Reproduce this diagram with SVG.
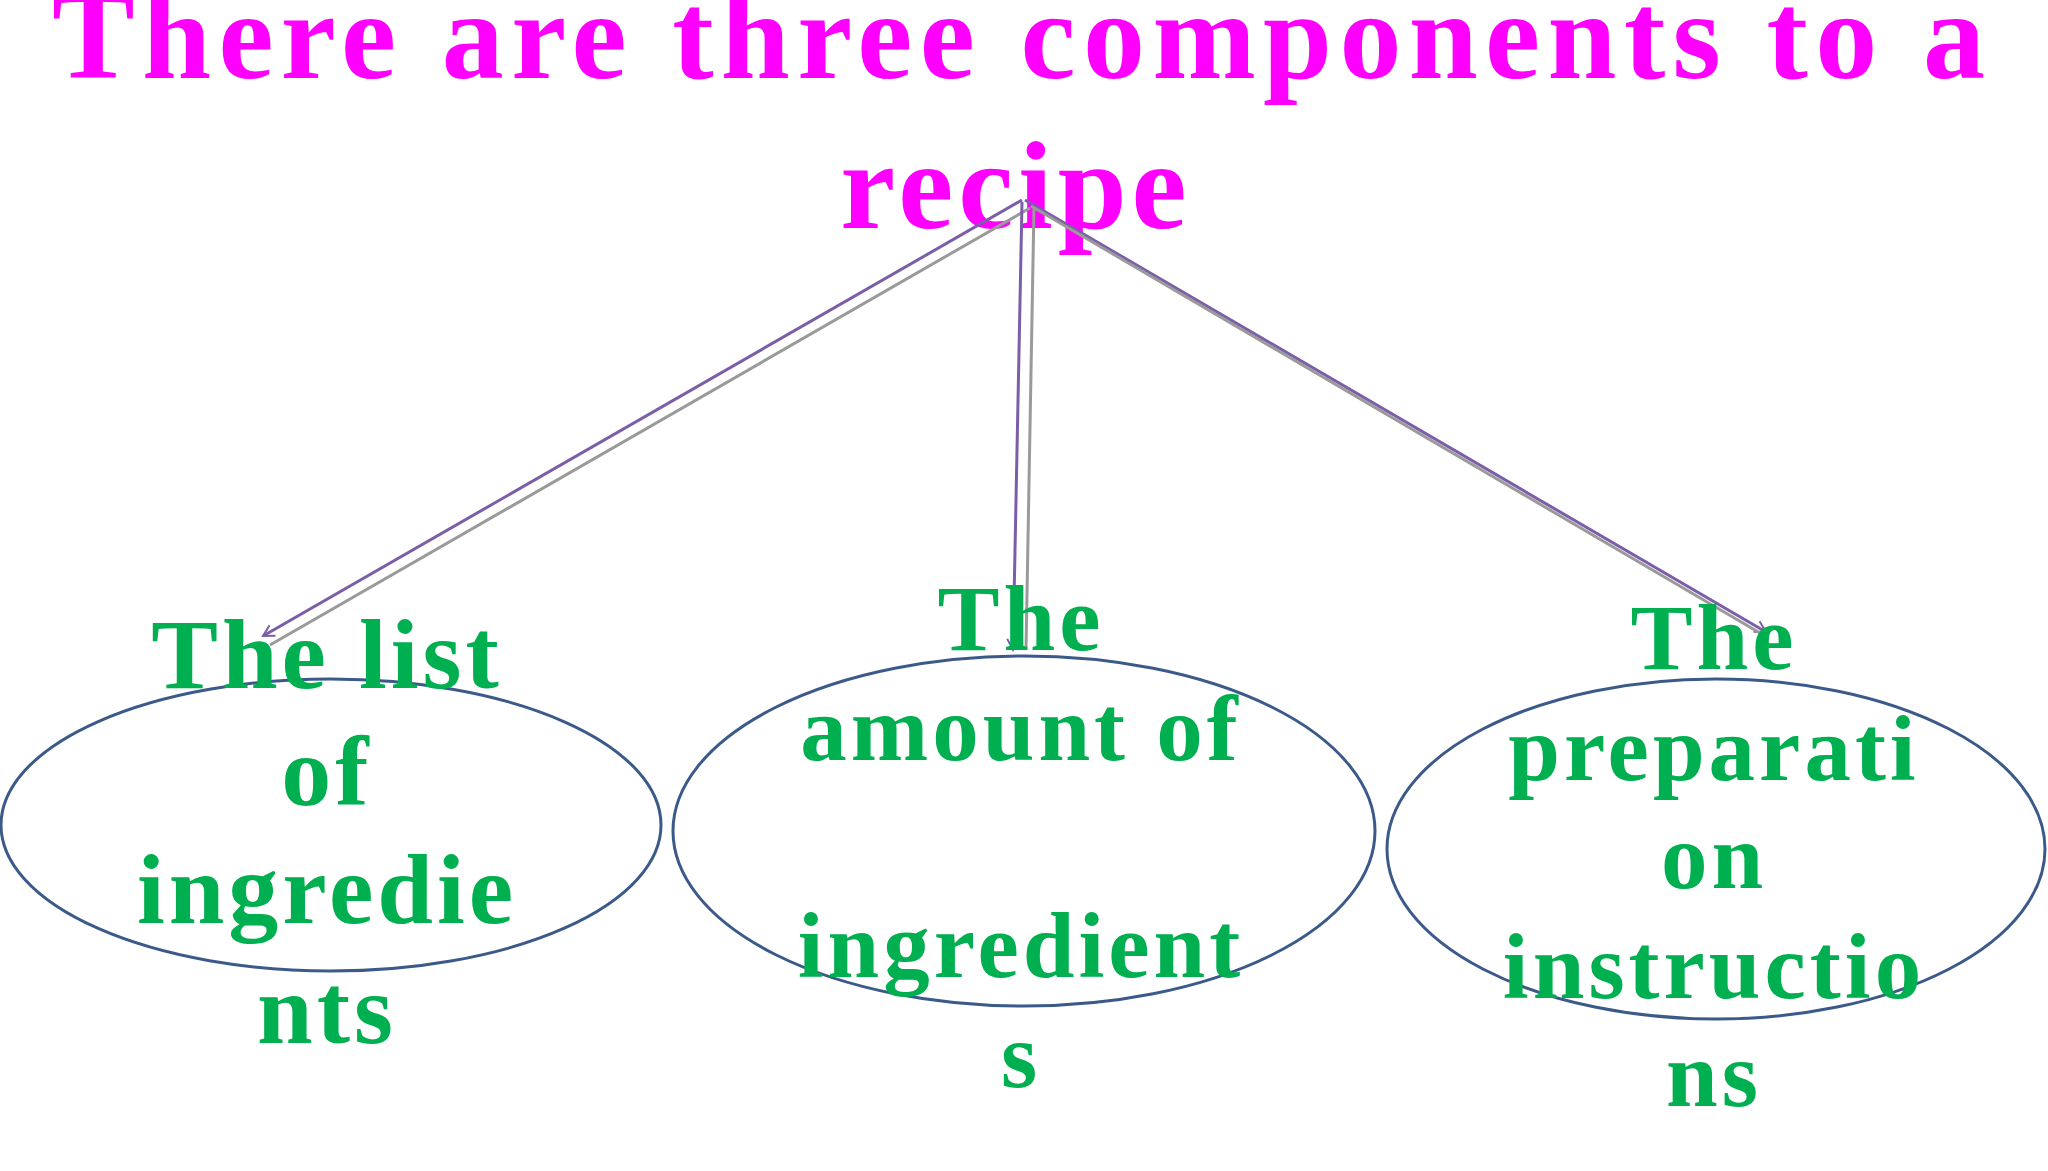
<svg xmlns="http://www.w3.org/2000/svg" width="2048" height="1171" viewBox="0 0 2048 1171">
<style>
.t{font-family:"Liberation Serif",serif;font-weight:bold;fill:#FF00FF;font-size:124px}
.g{font-family:"Liberation Serif",serif;font-weight:bold;fill:#00B050;text-anchor:middle;letter-spacing:4px}
.e{fill:none;stroke:#3B5A8A;stroke-width:3}
.p{stroke:#7B5EA7;stroke-width:3;fill:none}
.q{stroke:#9A9A9A;stroke-width:3;fill:none}
</style>
<defs><marker id="a" markerWidth="14" markerHeight="14" refX="12" refY="7" orient="auto" markerUnits="userSpaceOnUse"><path d="M1,1 L12,7 L1,13" fill="none" stroke="#7B5EA7" stroke-width="2"/></marker></defs>
<rect width="2048" height="1171" fill="#fff"/>
<g id="title">
<text class="t" x="52" y="78" textLength="1933" lengthAdjust="spacing">There are three components to a</text>
<text class="t" x="1016" y="228" text-anchor="middle" letter-spacing="5">recipe</text>
</g>
<g id="connectors">
<line class="p" x1="1022" y1="200" x2="263" y2="636" marker-end="url(#a)"/>
<line class="q" x1="1030" y1="208" x2="270" y2="645"/>
<line class="p" x1="1022" y1="202" x2="1013" y2="650" marker-end="url(#a)"/>
<line class="q" x1="1034" y1="206" x2="1026" y2="650"/>
<line class="p" x1="1025" y1="200" x2="1766" y2="632" marker-end="url(#a)"/>
<line class="q" x1="1031" y1="206" x2="1760" y2="633"/>
</g>
<g id="n1">
<ellipse class="e" cx="331" cy="825" rx="330" ry="146"/>
<text class="g" font-size="100"><tspan x="327" y="688">The list</tspan><tspan x="327" y="805">of</tspan><tspan x="327" y="923">ingredie</tspan><tspan x="327" y="1043">nts</tspan></text>
</g>
<g id="n2">
<ellipse class="e" cx="1024" cy="831" rx="351" ry="175"/>
<text class="g" font-size="93"><tspan x="1021" y="650">The</tspan><tspan x="1021" y="760">amount of</tspan><tspan x="1021" y="977">ingredient</tspan><tspan x="1021" y="1087">s</tspan></text>
</g>
<g id="n3">
<ellipse class="e" cx="1716" cy="849" rx="329" ry="170"/>
<text class="g" font-size="93"><tspan x="1714" y="669">The</tspan><tspan x="1714" y="780">preparati</tspan><tspan x="1714" y="888">on</tspan><tspan x="1714" y="998">instructio</tspan><tspan x="1714" y="1106">ns</tspan></text>
</g>
</svg>
